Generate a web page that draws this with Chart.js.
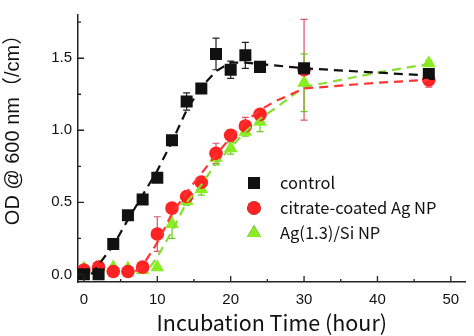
<!DOCTYPE html>
<html>
<head>
<meta charset="utf-8">
<script src="https://cdn.jsdelivr.net/npm/chart.js@4/dist/chart.umd.min.js"></script>
<style>
  html, body { margin: 0; padding: 0; background: #fff; }
  #wrap { width: 474px; height: 336px; position: relative; }
</style>
</head>
<body>
<div id="wrap"><canvas id="growth"></canvas></div>
<script>
// sampling times (hour)
const hours = [0, 2, 4, 6, 8, 10, 12, 14, 16, 18, 20, 22, 24, 30, 47];

// OD @ 600 nm, mean and error for each culture
const controlOD  = [0.00, 0.00, 0.21, 0.41, 0.52, 0.67, 0.93, 1.20, 1.29, 1.53, 1.42, 1.52, 1.44, 1.43, 1.39];
const controlErr = [0.01, 0.01, 0.01, 0.01, 0.01, 0.01, 0.01, 0.06, 0.02, 0.11, 0.06, 0.09, 0.03, 0.03, 0.02];
const citrateOD  = [0.03, 0.05, 0.02, 0.02, 0.05, 0.28, 0.46, 0.54, 0.64, 0.84, 0.965, 1.03, 1.11, 1.42, 1.35];
const citrateErr = [0.01, 0.01, 0.01, 0.01, 0.02, 0.12, 0.02, 0.02, 0.02, 0.07, 0.04, 0.06, 0.03, 0.35, 0.05];
const agSiOD     = [0.04, 0.05, 0.05, 0.04, 0.03, 0.05, 0.35, 0.51, 0.59, 0.81, 0.875, 0.99, 1.06, 1.33, 1.465];
const agSiErr    = [0.01, 0.01, 0.01, 0.01, 0.01, 0.01, 0.10, 0.03, 0.04, 0.05, 0.04, 0.03, 0.07, 0.20, 0.02];

// fitted growth curves (dashed)
const controlFitX = [1, 4, 6, 8, 10, 12, 14, 16, 18, 20, 22, 26, 30, 40, 47];
const controlFitY = [0.00, 0.20, 0.38, 0.55, 0.72, 0.92, 1.14, 1.30, 1.41, 1.47, 1.47, 1.45, 1.43, 1.40, 1.38];
const citrateFitX = [7, 8, 10, 12, 14, 16, 18, 20, 22, 24, 26, 30, 35, 40, 47];
const citrateFitY = [0.02, 0.06, 0.22, 0.42, 0.57, 0.70, 0.83, 0.95, 1.06, 1.14, 1.20, 1.29, 1.31, 1.33, 1.35];
const agSiFitX = [9, 10, 12, 14, 16, 18, 20, 22, 24, 26, 30, 35, 40, 47];
const agSiFitY = [0.05, 0.12, 0.30, 0.50, 0.62, 0.77, 0.88, 0.99, 1.08, 1.15, 1.30, 1.35, 1.40, 1.46];

const xTicks = [0, 5, 10, 15, 20, 25, 30, 35, 40, 45, 50];
const yTicks = [0, 0.25, 0.5, 0.75, 1.0, 1.25, 1.5, 1.75];

const BLACK = '#111111';
const RED = '#ff2222';
const GREEN = '#88ee22';

function pts(xs, ys) {
    return xs.map((x, i) => ({x: x, y: ys[i]}));
}

function fitLine(xs, ys, color) {
    return {
        label: '',
        data: pts(xs, ys),
        showLine: true,
        borderColor: color,
        borderWidth: 2.2,
        borderDash: [9, 6],
        pointRadius: 0,
        fill: false
    };
}

const markerSets = [
    {label: 'control', data: pts(hours, controlOD), err: controlErr, errColor: '#222222',
     pointStyle: 'rect', pointRadius: 8.5, backgroundColor: BLACK, borderColor: BLACK, borderWidth: 0},
    {label: 'citrate-coated Ag NP', data: pts(hours, citrateOD), err: citrateErr, errColor: '#e0506a',
     pointStyle: 'circle', pointRadius: 6.8, backgroundColor: RED, borderColor: RED, borderWidth: 0},
    {label: 'Ag(1.3)/Si NP', data: pts(hours, agSiOD), err: agSiErr, errColor: '#66cc22',
     pointStyle: 'triangle', pointRadius: 8, backgroundColor: GREEN, borderColor: GREEN, borderWidth: 0}
];

// error bars under the markers
const errorBars = {
    id: 'errorBars',
    beforeDatasetsDraw(chart) {
        const ctx = chart.ctx;
        const xs = chart.scales.x, ys = chart.scales.y;
        chart.data.datasets.forEach(ds => {
            if (!ds.err) return;
            ctx.save();
            ctx.strokeStyle = ds.errColor;
            ctx.lineWidth = 1.2;
            ds.data.forEach((p, i) => {
                const px = xs.getPixelForValue(p.x);
                const top = ys.getPixelForValue(p.y + ds.err[i]);
                const bot = ys.getPixelForValue(p.y - ds.err[i]);
                ctx.beginPath();
                ctx.moveTo(px, top); ctx.lineTo(px, bot);
                ctx.moveTo(px - 3.5, top); ctx.lineTo(px + 3.5, top);
                ctx.moveTo(px - 3.5, bot); ctx.lineTo(px + 3.5, bot);
                ctx.stroke();
            });
            ctx.restore();
        });
    }
};

// inward tick marks (long on labelled ticks), legend and y title
const decorations = {
    id: 'decorations',
    afterDraw(chart) {
        const ctx = chart.ctx;
        const xs = chart.scales.x, ys = chart.scales.y;
        const a = chart.chartArea;
        ctx.save();
        ctx.strokeStyle = '#222';
        ctx.lineWidth = 1.3;
        ctx.beginPath();
        xTicks.forEach(v => {
            const px = xs.getPixelForValue(v);
            const len = v % 10 === 0 ? 6 : 3;
            ctx.moveTo(px, a.bottom); ctx.lineTo(px, a.bottom - len);
        });
        yTicks.forEach(v => {
            const py = ys.getPixelForValue(v);
            const len = Math.abs(v * 2 - Math.round(v * 2)) < 1e-6 ? 6 : 3;
            ctx.moveTo(a.left, py); ctx.lineTo(a.left + len, py);
        });
        ctx.stroke();

        // legend
        const rows = [183, 208, 233];
        ctx.font = '16.5px "Noto Sans CJK JP", sans-serif';
        ctx.textBaseline = 'middle';
        ctx.textAlign = 'left';
        markerSets.forEach((ds, i) => {
            Chart.helpers.drawPoint(ctx, {
                pointStyle: ds.pointStyle, radius: ds.pointRadius, rotation: 0, borderWidth: 0
            }, 254, rows[i]);
            ctx.fillStyle = ds.backgroundColor;
            ctx.fill();
            ctx.fillStyle = '#111';
            ctx.fillText(ds.label, 280, rows[i]);
        });

        // y axis title
        ctx.translate(13.5, 125);
        ctx.rotate(-Math.PI / 2);
        ctx.textAlign = 'center';
        ctx.font = '20px "Liberation Sans", "Noto Sans CJK JP", sans-serif';
        ctx.fillStyle = '#111';
        ctx.fillText('OD @ 600 nm（/cm）', 0, 0);
        ctx.restore();
    }
};

const tickFont = {family: '"Liberation Sans", Arial, sans-serif', size: 15};

new Chart(document.getElementById('growth'), {
    type: 'scatter',
    data: {
        datasets: [
            fitLine(controlFitX, controlFitY, BLACK),
            fitLine(citrateFitX, citrateFitY, '#ff3333'),
            fitLine(agSiFitX, agSiFitY, '#88dd33'),
            ...markerSets
        ]
    },
    options: {
        responsive: true,
        maintainAspectRatio: false,
        animation: false,
        layout: {padding: {top: 2, right: 3, left: 0, bottom: 0}},
        plugins: {
            legend: {display: false},
            tooltip: {enabled: false}
        },
        scales: {
            x: {
                type: 'linear',
                min: -0.806,
                max: 52,
                afterBuildTicks: s => { s.ticks = xTicks.map(v => ({value: v})); },
                afterFit: s => { s.height = 54; },
                grid: {display: true, drawOnChartArea: false, drawTicks: false},
                border: {display: true, color: '#222', width: 1.5},
                ticks: {
                    color: '#111', font: tickFont, padding: 9, maxRotation: 0,
                    callback: v => (v % 10 === 0 ? String(v) : '')
                },
                title: {
                    display: true,
                    text: 'Incubation Time (hour)',
                    color: '#111',
                    font: {family: '"Noto Sans CJK JP", sans-serif', size: 21.5},
                    padding: {top: 0, bottom: 0}
                }
            },
            y: {
                type: 'linear',
                min: -0.053,
                max: 1.8,
                afterBuildTicks: s => { s.ticks = yTicks.map(v => ({value: v})); },
                afterFit: s => { s.width = 78; },
                grid: {display: true, drawOnChartArea: false, drawTicks: false},
                border: {display: true, color: '#222', width: 1.5},
                ticks: {
                    color: '#111', font: tickFont, padding: 6,
                    callback: v => (Math.abs(v * 2 - Math.round(v * 2)) < 1e-6 ? v.toFixed(1) : '')
                },
                title: {display: false}
            }
        }
    },
    plugins: [errorBars, decorations]
});
</script>
</body>
</html>
